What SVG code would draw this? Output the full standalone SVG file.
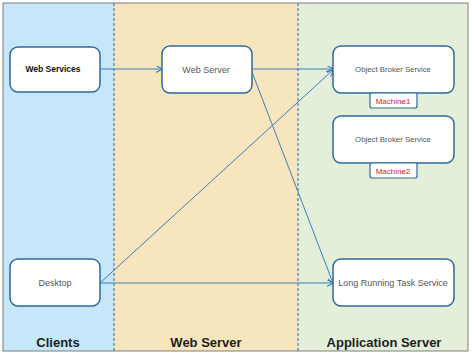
<svg xmlns="http://www.w3.org/2000/svg" width="474" height="355" viewBox="0 0 474 355">
<style>
.node{fill:#fff;stroke:#2e6aa0;stroke-width:1.5}
.tag{fill:#fff;stroke:#2e6aa0;stroke-width:1.2}
.t{font-family:"Liberation Sans",Arial,sans-serif;font-size:9px;fill:#555;text-anchor:middle}
.ts{font-family:"Liberation Sans",Arial,sans-serif;font-size:7.8px;fill:#555;text-anchor:middle}
.tb{font-family:"Liberation Sans",Arial,sans-serif;font-size:8.5px;font-weight:bold;fill:#111;text-anchor:middle}
.tr{font-family:"Liberation Sans",Arial,sans-serif;font-size:8px;fill:#e0201b;text-anchor:middle}
.col{font-family:"Liberation Sans",Arial,sans-serif;font-size:13px;font-weight:bold;fill:#1e1e1e;text-anchor:middle}
.sep{stroke:#2d6a9a;stroke-width:1;stroke-dasharray:3,2}
.c{stroke:#3b7fbf;stroke-width:1;fill:none;marker-end:url(#a)}
</style>
<defs>
<marker id="a" viewBox="0 0 10 10" refX="9" refY="5" markerWidth="7" markerHeight="7" orient="auto" markerUnits="userSpaceOnUse">
<path d="M0,0 L10,5 L0,10" fill="none" stroke="#3b7fbf" stroke-width="1.5"/>
</marker>
</defs>
<rect x="0" y="0" width="474" height="355" fill="#fff"/>
<g id="lanes">
<rect x="3" y="3" width="111" height="348" fill="#c5e7f9"/>
<rect x="114" y="3" width="184" height="348" fill="#f6e5bd"/>
<rect x="298" y="3" width="170" height="348" fill="#e3efd9"/>
<rect x="3" y="3" width="465" height="348" fill="none" stroke="#7f7f7f" stroke-width="1"/>
<line class="sep" x1="114" y1="3" x2="114" y2="351"/>
<line class="sep" x1="298" y1="3" x2="298" y2="351"/>
<text class="col" x="58" y="347">Clients</text>
<text class="col" x="206" y="347">Web Server</text>
<text class="col" x="384" y="347">Application Server</text>
</g>
<g id="connectors">
<line class="c" x1="100" y1="69" x2="162" y2="69"/>
<line class="c" x1="252" y1="69" x2="333" y2="69"/>
<line class="c" x1="252" y1="72" x2="333" y2="283"/>
<line class="c" x1="100" y1="283" x2="333" y2="70"/>
<line class="c" x1="100" y1="283" x2="333" y2="283"/>
</g>
<g id="web-services"><rect class="node" x="10" y="47" width="90" height="45" rx="8"/><text class="tb" x="53" y="72">Web Services</text></g>
<g id="web-server"><rect class="node" x="162" y="46" width="90" height="47" rx="8"/><text class="t" x="206" y="73">Web Server</text></g>
<g id="obs1"><rect class="node" x="333" y="46" width="121" height="47" rx="8"/><text class="ts" x="393" y="72">Object Broker Service</text></g>
<g id="machine1"><rect class="tag" x="370" y="93" width="47" height="15" rx="2"/><text class="tr" x="393" y="104">Machine1</text></g>
<g id="obs2"><rect class="node" x="333" y="116" width="121" height="47" rx="8"/><text class="ts" x="393" y="142">Object Broker Service</text></g>
<g id="machine2"><rect class="tag" x="370" y="163" width="47" height="15" rx="2"/><text class="tr" x="393" y="174">Machine2</text></g>
<g id="desktop"><rect class="node" x="10" y="259" width="90" height="47" rx="8"/><text class="t" x="55" y="286">Desktop</text></g>
<g id="long-running"><rect class="node" x="333" y="259" width="121" height="47" rx="8"/><text class="t" x="393" y="286">Long Running Task Service</text></g>
</svg>
